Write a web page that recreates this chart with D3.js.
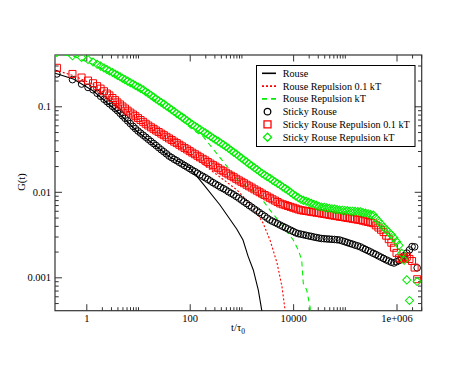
<!DOCTYPE html>
<html>
<head>
<meta charset="utf-8">
<script src="https://cdn.jsdelivr.net/npm/d3@7"></script>
<style>
  body { margin: 0; background: #fff; }
  svg { display: block; font-family: "Liberation Serif", "Times New Roman", serif; }
</style>
</head>
<body>
<svg id="chart" width="474" height="366"></svg>
<script>
// data
// shared time grid for the three symbol series (t / tau0)
const tGrid = [
  0.27, 0.54, 0.81, 1.08, 1.35, 1.62, 1.89, 2.2, 2.5, 2.8, 3.2, 3.6, 4, 4.5, 5, 5.6, 6.3, 7.1, 8, 8.9,
  10, 11.2, 12.6, 14.1, 15.8, 17.8, 20, 22.4, 25.1, 28.2, 31.6, 35.5, 39.8, 44.7, 50.1, 56.2, 63.1, 70.8, 79.4, 89.1,
  100, 112, 126, 141, 158, 178, 200, 224, 251, 282, 316, 355, 398, 447, 501, 562, 631, 708, 794, 891,
  1000, 1120, 1260, 1410, 1580, 1780, 2000, 2240, 2510, 2820, 3160, 3550, 3980, 4470, 5010, 5620, 6310, 7080, 7940, 8910,
  1e4, 1.12e4, 1.26e4, 1.41e4, 1.58e4, 1.78e4, 2e4, 2.24e4, 2.51e4, 2.82e4, 3.16e4, 3.55e4, 3.98e4, 4.47e4, 5.01e4, 5.62e4, 6.31e4, 7.08e4, 7.94e4, 8.91e4,
  1e5, 1.12e5, 1.26e5, 1.41e5, 1.58e5, 1.78e5, 2e5, 2.24e5, 2.51e5, 2.82e5, 3.16e5, 3.55e5, 3.98e5, 4.47e5, 5.01e5, 5.62e5, 6.31e5, 7.08e5, 7.94e5, 8.91e5,
  1e6, 1.12e6, 1.26e6, 1.41e6, 1.58e6, 1.78e6, 2e6, 2.24e6, 2.51e6
];

const gSticky = [
  0.239, 0.205, 0.182, 0.166, 0.156, 0.142, 0.131, 0.121, 0.1135, 0.107, 0.100, 0.0942, 0.0889, 0.0828, 0.0776, 0.0724, 0.0675, 0.0628, 0.0583, 0.0548,
  0.0514, 0.0486, 0.0459, 0.0435, 0.0411, 0.0388, 0.0367, 0.0348, 0.0328, 0.0310, 0.0294, 0.0278, 0.0262, 0.0251, 0.0240, 0.0231, 0.0221, 0.0212, 0.0203, 0.0195,
  0.0187, 0.0179, 0.0172, 0.0165, 0.0158, 0.0152, 0.0146, 0.0140, 0.0134, 0.0128, 0.0123, 0.0118, 0.0113, 0.0109, 0.0105, 0.0100, 0.00962, 0.00923, 0.00883, 0.00843,
  0.00802, 0.00764, 0.00728, 0.00693, 0.00661, 0.00628, 0.00598, 0.00570, 0.00543, 0.00518, 0.00492, 0.00469, 0.00453, 0.00438, 0.00423, 0.00408, 0.00394, 0.00381, 0.00368, 0.00356,
  0.00344, 0.00332, 0.00324, 0.00320, 0.00315, 0.00310, 0.00305, 0.00301, 0.00296, 0.00292, 0.00288, 0.00284, 0.00283, 0.00281, 0.00280, 0.00278, 0.00277, 0.00275, 0.00273, 0.00267,
  0.00261, 0.00255, 0.00249, 0.00244, 0.00238, 0.00233, 0.00227, 0.00219, 0.00212, 0.00205, 0.00198, 0.00191, 0.00185, 0.00178, 0.00172, 0.00166, 0.00160, 0.00155, 0.00150, 0.00147,
  0.00152, 0.00157, 0.00167, 0.00179, 0.00192, 0.00209, 0.00229, 0.00227, 0.00129
];

const gStickyRep01 = [
  0.282, 0.239, 0.217, 0.200, 0.186, 0.172, 0.161, 0.150, 0.141, 0.134, 0.125, 0.118, 0.111, 0.105, 0.0995, 0.0942, 0.0889, 0.0845, 0.0802, 0.0766,
  0.0728, 0.0692, 0.0658, 0.0625, 0.0596, 0.0568, 0.0545, 0.0521, 0.0500, 0.0479, 0.0459, 0.0440, 0.0421, 0.0404, 0.0386, 0.0371, 0.0355, 0.0340, 0.0326, 0.0313,
  0.0299, 0.0287, 0.0275, 0.0264, 0.0253, 0.0243, 0.0233, 0.0223, 0.0214, 0.0205, 0.0197, 0.0189, 0.0181, 0.0174, 0.0167, 0.0160, 0.0154, 0.0148, 0.0142, 0.0136,
  0.0131, 0.0126, 0.0121, 0.0116, 0.0112, 0.0107, 0.0103, 0.00989, 0.00953, 0.00916, 0.00883, 0.00851, 0.00818, 0.00789, 0.00759, 0.00731, 0.00714, 0.00698, 0.00682, 0.00667,
  0.00652, 0.00637, 0.00622, 0.00610, 0.00603, 0.00597, 0.00590, 0.00583, 0.00577, 0.00570, 0.00564, 0.00557, 0.00551, 0.00545, 0.00537, 0.00531, 0.00525, 0.00519, 0.00512, 0.00507,
  0.00501, 0.00495, 0.00490, 0.00484, 0.00478, 0.00472, 0.00467, 0.00459, 0.00451, 0.00444, 0.00437, 0.00429, 0.00405, 0.00382, 0.00360, 0.00338, 0.00307, 0.00279, 0.00254, 0.00222,
  0.00193, 0.00167, 0.00163, 0.00169, 0.00174, 0.00164, 0.00155, 0.00130, 0.00095
];

const gStickyRepKT = [
  0.427, 0.389, 0.373, 0.352, 0.329, 0.310, 0.295, 0.281, 0.269, 0.259, 0.248, 0.238, 0.230, 0.221, 0.213, 0.205, 0.197, 0.189, 0.182, 0.175,
  0.168, 0.162, 0.156, 0.148, 0.141, 0.135, 0.128, 0.122, 0.116, 0.111, 0.106, 0.101, 0.0959, 0.0912, 0.0869, 0.0826, 0.0787, 0.0748, 0.0713, 0.0678,
  0.0646, 0.0614, 0.0586, 0.0560, 0.0536, 0.0512, 0.0489, 0.0467, 0.0446, 0.0426, 0.0406, 0.0389, 0.0372, 0.0355, 0.0339, 0.0323, 0.0306, 0.0290, 0.0276, 0.0262,
  0.0248, 0.0236, 0.0224, 0.0212, 0.0202, 0.0191, 0.0182, 0.0173, 0.0164, 0.0157, 0.0150, 0.0144, 0.0137, 0.0131, 0.0125, 0.0120, 0.0114, 0.0109, 0.0104, 0.00986,
  0.00938, 0.00893, 0.00851, 0.00817, 0.00794, 0.00774, 0.00753, 0.00733, 0.00714, 0.00695, 0.00676, 0.00665, 0.00658, 0.00650, 0.00643, 0.00635, 0.00628, 0.00621, 0.00614, 0.00610,
  0.00605, 0.00603, 0.00598, 0.00594, 0.00592, 0.00587, 0.00583, 0.00573, 0.00564, 0.00553, 0.00543, 0.00535, 0.00494, 0.00456, 0.00421, 0.00388, 0.00362, 0.00337, 0.00315, 0.00291,
  0.00262, 0.00237, 0.00191, 0.00158, 0.000933, 0.000537, null, null, 0.000891
];

// line series (own time points)
const rouseT = [0.25, 0.561, 1.37, 3.87, 9.44, 41.6, 101, 183, 385, 811, 1074, 1343, 1698, 2123, 2472, 2630];
const rouseG = [0.243, 0.208, 0.151, 0.0881, 0.0514, 0.0255, 0.0190, 0.0123, 0.00701, 0.00367, 0.00273, 0.00177, 0.00122, 0.00071, 0.000414, 0.00025];

const rep01T = [0.25, 0.561, 1.37, 2.48, 6.04, 17.1, 41.6, 92.7, 178, 385, 822, 1675, 2618, 3573, 4887, 6109, 6982, 7400];
const rep01G = [0.265, 0.229, 0.180, 0.137, 0.0881, 0.0557, 0.0415, 0.0284, 0.0211, 0.0149, 0.0105, 0.00664, 0.00432, 0.00273, 0.00147, 0.000769, 0.000414, 0.00025];

const repKTT = [0.25, 0.561, 1.37, 3.87, 12.7, 33.3, 117, 183, 859, 2291, 3573, 6457, 10090, 12620, 14660, 15740, 18320, 21230, 23400];
const repKTG = [0.412, 0.387, 0.308, 0.223, 0.147, 0.0982, 0.0528, 0.0441, 0.0137, 0.00877, 0.00612, 0.00391, 0.00273, 0.00208, 0.00159, 0.000851, 0.00071, 0.000453, 0.00025];

// ticks
const xMajor = [1, 100, 10000, 1e6];
const xMajorLabels = ['1', '100', '10000', '1e+006'];
const yMajor = [0.001, 0.01, 0.1];
const yMajorLabels = ['0.001', '0.01', '0.1'];

const legendLabels = [
  'Rouse', 'Rouse Repulsion 0.1 kT', 'Rouse Repulsion kT',
  'Sticky Rouse', 'Sticky Rouse Repulsion 0.1 kT', 'Sticky Rouse Repulsion kT'
];

// layout
const P = { left: 55, right: 421.7, top: 55, bottom: 310.7 };
const RED = '#ff0000', GREEN = '#00ee00', AXIS = '#333';

const svg = d3.select('#chart');

const x = d3.scaleLog().domain([0.248, 3.07e6]).range([P.left, P.right]);
const y = d3.scaleLog().domain([4.07e-4, 0.398]).range([P.bottom, P.top]);

// minor tick values
const xMinor = [];
[1, 100, 10000, 1e6].forEach(m => { for (let k = 2; k <= 10; k++) xMinor.push(m * k); });
const yMinor = [];
[1e-4, 1e-3, 1e-2, 1e-1].forEach(m => { for (let k = 2; k <= 9; k++) yMinor.push(m * k); });
const xMinorIn = xMinor.filter(v => v > x.domain()[0] && v < x.domain()[1]);
const yMinorIn = yMinor.filter(v => v > y.domain()[0] && v < y.domain()[1]);

svg.append('clipPath').attr('id', 'plot-clip')
  .append('rect')
  .attr('x', P.left).attr('y', P.top)
  .attr('width', P.right - P.left).attr('height', P.bottom - P.top);

// axes
function styleAxis(g) {
  g.select('.domain').remove();
  g.selectAll('.tick line').attr('stroke', AXIS);
  g.selectAll('.tick text')
    .attr('font-family', '"Liberation Serif", "Times New Roman", serif')
    .attr('font-size', 10.5)
    .attr('fill', '#000');
  g.attr('font-family', null).attr('font-size', null);
}

function addAxis(axisFn, scale, transform, values, size, labels) {
  const ax = axisFn(scale).tickValues(values).tickSize(-size).tickSizeOuter(0);
  if (labels) {
    ax.tickPadding(axisFn === d3.axisBottom ? 3.5 : 4)
      .tickFormat(d => labels[values.indexOf(d)]);
  } else {
    ax.tickFormat('');
  }
  svg.append('g').attr('transform', transform).call(ax).call(styleAxis);
}

addAxis(d3.axisBottom, x, `translate(0,${P.bottom})`, xMajor, 6.5, xMajorLabels);
addAxis(d3.axisBottom, x, `translate(0,${P.bottom})`, xMinorIn, 3.5);
addAxis(d3.axisTop, x, `translate(0,${P.top})`, xMajor, 6.5);
addAxis(d3.axisTop, x, `translate(0,${P.top})`, xMinorIn, 3.5);
addAxis(d3.axisLeft, y, `translate(${P.left},0)`, yMajor, 7, yMajorLabels);
addAxis(d3.axisLeft, y, `translate(${P.left},0)`, yMinorIn, 3.7);
addAxis(d3.axisRight, y, `translate(${P.right},0)`, yMajor, 7);
addAxis(d3.axisRight, y, `translate(${P.right},0)`, yMinorIn, 3.7);

// frame
svg.append('rect')
  .attr('x', P.left).attr('y', P.top)
  .attr('width', P.right - P.left).attr('height', P.bottom - P.top)
  .attr('fill', 'none').attr('stroke', AXIS).attr('stroke-width', 1.2);

// axis titles
svg.append('text')
  .attr('transform', 'translate(25,182) rotate(-90)')
  .attr('text-anchor', 'middle')
  .attr('font-size', 10.5)
  .text('G(t)');

const xt = svg.append('text')
  .attr('x', 238).attr('y', 331)
  .attr('text-anchor', 'middle')
  .attr('font-size', 10.5);
xt.append('tspan').text('t/τ');
xt.append('tspan').attr('font-size', 7.5).attr('dy', 3).text('0');

// series
const plot = svg.append('g').attr('clip-path', 'url(#plot-clip)');

const line = d3.line()
  .defined(d => d[1] != null)
  .x(d => x(d[0]))
  .y(d => y(Math.max(d[1], 1e-5)));

const lineSeries = [
  { t: rouseT, g: rouseG, color: '#000', dash: null },
  { t: rep01T, g: rep01G, color: RED, dash: '2,2' },
  { t: repKTT, g: repKTG, color: GREEN, dash: '5,4' }
];

lineSeries.forEach(s => {
  plot.append('path')
    .datum(s.t.map((t, i) => [t, s.g[i]]))
    .attr('fill', 'none')
    .attr('stroke', s.color)
    .attr('stroke-width', 1.1)
    .attr('stroke-dasharray', s.dash)
    .attr('d', line);
});

const circleSym = d3.symbol().type(d3.symbolCircle).size(Math.PI * 3.3 * 3.3);
const squareSym = d3.symbol().type(d3.symbolSquare).size(49);
const diamondSym = d3.symbol().type(d3.symbolSquare).size(33);

const symbolSeries = [
  { g: gSticky, color: '#000', path: circleSym(), rot: 0 },
  { g: gStickyRep01, color: RED, path: squareSym(), rot: 0 },
  { g: gStickyRepKT, color: GREEN, path: diamondSym(), rot: 45 }
];

symbolSeries.forEach(s => {
  const pts = tGrid.map((t, i) => [t, s.g[i]]).filter(d => d[1] != null);
  plot.append('g')
    .selectAll('path')
    .data(pts)
    .join('path')
    .attr('transform', d => `translate(${x(d[0])},${y(d[1])}) rotate(${s.rot})`)
    .attr('d', s.path)
    .attr('fill', 'none')
    .attr('stroke', s.color)
    .attr('stroke-width', 1);
});

// legend
const leg = svg.append('g');
leg.append('rect')
  .attr('x', 256.5).attr('y', 65.5)
  .attr('width', 158.5).attr('height', 81)
  .attr('fill', '#fff').attr('stroke', '#000').attr('stroke-width', 1);

const legY = d3.scaleLinear().domain([0, 5]).range([73.3, 137.2]);

legendLabels.forEach((lab, i) => {
  const cy = legY(i);
  if (i < 3) {
    const s = lineSeries[i];
    leg.append('line')
      .attr('x1', 262).attr('x2', 276).attr('y1', cy).attr('y2', cy)
      .attr('stroke', s.color).attr('stroke-width', 1.6)
      .attr('stroke-dasharray', s.dash);
  } else {
    const s = symbolSeries[i - 3];
    leg.append('path')
      .attr('transform', `translate(267.5,${cy}) rotate(${s.rot})`)
      .attr('d', s.path)
      .attr('fill', 'none').attr('stroke', s.color).attr('stroke-width', 1.3);
  }
  leg.append('text')
    .attr('x', 282.7).attr('y', cy + 3.6)
    .attr('font-size', 10.2)
    .text(lab);
});
</script>
</body>
</html>
